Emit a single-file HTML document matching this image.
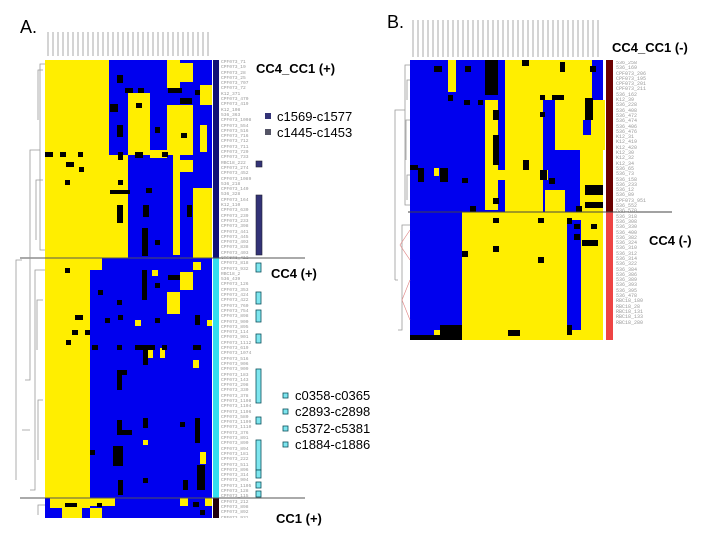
<!DOCTYPE html>
<html><head><meta charset="utf-8"><style>
body{margin:0;background:#fff;width:720px;height:540px;overflow:hidden;font-family:"Liberation Sans",sans-serif;position:relative}
.lab{position:absolute;font-family:"Liberation Mono",monospace;font-size:4.6px;line-height:5.3px;color:#999;overflow:hidden;word-break:normal;white-space:normal}
</style></head><body>
<svg width="720" height="540" viewBox="0 0 720 540" xmlns="http://www.w3.org/2000/svg" font-family="Liberation Sans, sans-serif" style="position:absolute;left:0;top:0">
<text x="20" y="33" font-size="18">A.</text>
<text x="387" y="28" font-size="18">B.</text>
<g stroke="#b8b8b8" stroke-width="1.2">
<path d="M48 56V32M53 56V32M58 56V32M63 56V32M68 56V32M73 56V32M78 56V32M83 56V32M88 56V32M93 56V32M98 56V32M103 56V32M108 56V32M113 56V32M118 56V32M123 56V32M128 56V32M133 56V32M138 56V32M143 56V32M148 56V32M153 56V32M158 56V32M163 56V32M168 56V32M173 56V32M178 56V32M183 56V32M188 56V32M193 56V32M198 56V32M203 56V32M208 56V32"/>
<path d="M413 57V20M418 57V20M423 57V20M428 57V20M433 57V20M438 57V20M443 57V20M448 57V20M453 57V20M458 57V20M463 57V20M468 57V20M473 57V20M478 57V20M483 57V20M488 57V20M493 57V20M498 57V20M503 57V20M508 57V20M513 57V20M518 57V20M523 57V20M528 57V20M533 57V20M538 57V20M543 57V20M548 57V20M553 57V20M558 57V20M563 57V20M568 57V20M573 57V20M578 57V20M583 57V20M588 57V20M593 57V20M598 57V20"/>
</g>
<rect x="45" y="60" width="167" height="198" fill="#ffee00"/>
<rect x="109" y="60" width="103" height="95" fill="#0000ee"/>
<rect x="128" y="155" width="84" height="103" fill="#0000ee"/>
<g fill="#ffee00">
<rect x="167" y="60" width="13" height="28"/><rect x="180" y="63" width="13" height="19"/>
<rect x="128" y="93" width="22" height="62"/><rect x="167" y="105" width="26" height="50"/>
<rect x="200" y="85" width="12" height="20"/><rect x="200" y="125" width="7" height="27"/>
<rect x="173" y="155" width="7" height="100"/><rect x="193" y="188" width="19" height="70"/>
<rect x="150" y="150" width="17" height="8"/><rect x="180" y="160" width="13" height="12"/>
</g>
<g fill="#000">
<rect x="117" y="75" width="6" height="8"/><rect x="125" y="88" width="8" height="5"/><rect x="138" y="88" width="6" height="5"/><rect x="168" y="88" width="14" height="5"/><rect x="195" y="90" width="5" height="5"/>
<rect x="110" y="104" width="8" height="8"/><rect x="136" y="103" width="6" height="5"/><rect x="180" y="98" width="12" height="6"/>
<rect x="117" y="125" width="6" height="12"/><rect x="155" y="127" width="5" height="6"/><rect x="181" y="133" width="6" height="5"/>
<rect x="45" y="152" width="8" height="5"/><rect x="60" y="152" width="6" height="5"/><rect x="78" y="152" width="5" height="5"/><rect x="135" y="152" width="8" height="6"/><rect x="162" y="152" width="6" height="5"/>
<rect x="66" y="162" width="8" height="5"/><rect x="79" y="167" width="5" height="5"/><rect x="118" y="152" width="5" height="8"/>
<rect x="65" y="180" width="5" height="5"/><rect x="118" y="180" width="5" height="5"/><rect x="110" y="190" width="20" height="4"/><rect x="146" y="188" width="6" height="5"/>
<rect x="117" y="205" width="6" height="18"/><rect x="143" y="205" width="6" height="12"/><rect x="187" y="205" width="5" height="12"/>
<rect x="142" y="228" width="6" height="28"/><rect x="155" y="240" width="5" height="5"/>
</g>
<rect x="45" y="258" width="167" height="240" fill="#0000ee"/>
<rect x="45" y="258" width="45" height="240" fill="#ffee00"/>
<g fill="#ffee00">
<rect x="90" y="258" width="12" height="12"/><rect x="152" y="270" width="6" height="6"/><rect x="180" y="272" width="13" height="18"/>
<rect x="167" y="292" width="13" height="22"/><rect x="193" y="262" width="8" height="8"/><rect x="207" y="320" width="5" height="6"/>
<rect x="135" y="320" width="6" height="6"/><rect x="148" y="348" width="5" height="10"/><rect x="160" y="348" width="5" height="10"/><rect x="193" y="360" width="6" height="8"/>
<rect x="143" y="440" width="5" height="5"/><rect x="200" y="452" width="6" height="12"/><rect x="200" y="476" width="5" height="6"/>
</g>
<g fill="#000">
<rect x="65" y="268" width="5" height="5"/><rect x="142" y="270" width="5" height="30"/><rect x="155" y="283" width="5" height="5"/><rect x="168" y="275" width="12" height="5"/>
<rect x="98" y="290" width="5" height="5"/><rect x="117" y="300" width="5" height="5"/><rect x="75" y="315" width="8" height="5"/><rect x="105" y="318" width="5" height="5"/><rect x="118" y="315" width="5" height="5"/><rect x="155" y="318" width="5" height="5"/><rect x="195" y="315" width="5" height="10"/>
<rect x="72" y="330" width="6" height="5"/><rect x="85" y="330" width="5" height="5"/><rect x="66" y="340" width="5" height="5"/>
<rect x="92" y="345" width="6" height="5"/><rect x="117" y="345" width="5" height="5"/><rect x="135" y="345" width="20" height="5"/><rect x="143" y="350" width="5" height="15"/><rect x="162" y="345" width="5" height="5"/><rect x="193" y="345" width="8" height="5"/>
<rect x="117" y="370" width="5" height="20"/><rect x="122" y="370" width="5" height="5"/>
<rect x="117" y="420" width="5" height="15"/><rect x="143" y="418" width="5" height="10"/><rect x="195" y="418" width="5" height="25"/><rect x="180" y="422" width="5" height="5"/><rect x="122" y="430" width="10" height="5"/>
<rect x="90" y="450" width="5" height="5"/><rect x="113" y="446" width="10" height="20"/><rect x="197" y="465" width="8" height="25"/>
<rect x="118" y="480" width="5" height="15"/><rect x="143" y="478" width="5" height="5"/><rect x="183" y="480" width="5" height="10"/>
</g>
<rect x="45" y="498" width="167" height="20" fill="#0000ee"/>
<g fill="#ffee00"><rect x="50" y="498" width="40" height="10"/><rect x="83" y="498" width="32" height="8"/><rect x="62" y="508" width="20" height="10"/><rect x="90" y="508" width="12" height="10"/><rect x="180" y="498" width="8" height="8"/><rect x="205" y="498" width="7" height="8"/></g>
<g fill="#000"><rect x="65" y="503" width="12" height="4"/><rect x="97" y="503" width="5" height="4"/><rect x="193" y="502" width="6" height="5"/><rect x="200" y="510" width="5" height="5"/></g>
<rect x="213" y="60" width="6" height="198" fill="#111177"/>
<rect x="213" y="258" width="6" height="240" fill="#33ddee"/>
<rect x="213" y="498" width="6" height="20" fill="#220011"/>
<line x1="20" y1="258" x2="305" y2="258" stroke="#555" stroke-width="1"/>
<line x1="20" y1="498" x2="305" y2="498" stroke="#555" stroke-width="1"/>
<g stroke="#999" fill="none" stroke-width="0.8">
<path d="M45 64H40V250H45M40 150H30V380H25M22 260H16V480M45 270H35V490H30M30 430H22"/>
<path d="M43 70H38V120M43 180H36V240M43 300H37V350M43 400H38V460M45 505H38V515"/>
</g>
<g fill="#333377" stroke="#223" stroke-width="0.6">
<rect x="256" y="161" width="6" height="6"/>
<rect x="256" y="195" width="6" height="60"/>
</g>
<g fill="#7ee6ef" stroke="#0a4f5a" stroke-width="0.8">
<rect x="256" y="263" width="5" height="9"/><rect x="256" y="292" width="5" height="12"/><rect x="256" y="310" width="5" height="12"/><rect x="256" y="334" width="5" height="9"/>
<rect x="256" y="369" width="5" height="34"/><rect x="256" y="417" width="5" height="7"/><rect x="256" y="440" width="5" height="30"/><rect x="256" y="470" width="5" height="8"/><rect x="256" y="482" width="5" height="6"/><rect x="256" y="491" width="5" height="6"/>
</g>
<text x="256" y="73" font-size="13" font-weight="bold">CC4_CC1 (+)</text>
<rect x="265" y="113" width="6" height="6" fill="#333377"/>
<text x="277" y="121" font-size="13">c1569-c1577</text>
<rect x="265" y="129" width="6" height="6" fill="#556"/>
<text x="277" y="137" font-size="13">c1445-c1453</text>
<text x="271" y="278" font-size="13" font-weight="bold">CC4 (+)</text>
<g fill="#7ee6ef" stroke="#0a4f5a" stroke-width="0.8">
<rect x="283" y="393" width="5" height="5"/><rect x="283" y="409" width="5" height="5"/><rect x="283" y="426" width="5" height="5"/><rect x="283" y="442" width="5" height="5"/>
</g>
<text x="295" y="400" font-size="13">c0358-c0365</text>
<text x="295" y="416" font-size="13">c2893-c2898</text>
<text x="295" y="433" font-size="13">c5372-c5381</text>
<text x="295" y="449" font-size="13">c1884-c1886</text>
<text x="276" y="523" font-size="13" font-weight="bold">CC1 (+)</text>

<rect x="410" y="60" width="193" height="152" fill="#0000ee"/>
<g fill="#ffee00">
<rect x="448" y="60" width="8" height="32"/><rect x="505" y="60" width="38" height="152"/><rect x="543" y="60" width="22" height="40"/><rect x="565" y="60" width="27" height="80"/>
<rect x="485" y="100" width="13" height="110"/><rect x="555" y="100" width="50" height="50"/><rect x="580" y="150" width="23" height="62"/>
<rect x="498" y="170" width="50" height="10"/><rect x="545" y="190" width="20" height="22"/><rect x="434" y="168" width="5" height="8"/>
</g>
<rect x="583" y="120" width="8" height="15" fill="#0000ee"/>
<g fill="#000">
<rect x="522" y="60" width="7" height="6"/><rect x="434" y="66" width="8" height="6"/><rect x="465" y="66" width="6" height="6"/><rect x="485" y="60" width="13" height="35"/><rect x="560" y="62" width="5" height="10"/><rect x="590" y="66" width="6" height="6"/>
<rect x="448" y="95" width="5" height="6"/><rect x="464" y="100" width="6" height="5"/><rect x="478" y="100" width="5" height="5"/><rect x="540" y="95" width="5" height="5"/><rect x="552" y="95" width="12" height="5"/><rect x="585" y="98" width="8" height="22"/>
<rect x="493" y="110" width="6" height="10"/><rect x="540" y="112" width="5" height="5"/>
<rect x="493" y="135" width="6" height="30"/><rect x="523" y="160" width="6" height="10"/>
<rect x="410" y="165" width="8" height="5"/><rect x="418" y="168" width="6" height="14"/><rect x="440" y="168" width="8" height="14"/><rect x="462" y="178" width="6" height="5"/>
<rect x="540" y="170" width="7" height="10"/><rect x="549" y="178" width="6" height="6"/><rect x="585" y="185" width="18" height="10"/><rect x="493" y="198" width="6" height="6"/><rect x="585" y="202" width="18" height="6"/><rect x="470" y="206" width="6" height="6"/><rect x="576" y="206" width="6" height="6"/>
</g>
<rect x="410" y="212" width="193" height="128" fill="#ffee00"/>
<rect x="410" y="212" width="52" height="128" fill="#0000ee"/>
<rect x="567" y="220" width="14" height="110" fill="#0000ee"/>
<g fill="#000">
<rect x="493" y="218" width="6" height="5"/><rect x="538" y="218" width="6" height="5"/><rect x="567" y="218" width="5" height="6"/><rect x="574" y="224" width="6" height="5"/><rect x="591" y="224" width="6" height="5"/>
<rect x="574" y="234" width="6" height="6"/><rect x="582" y="240" width="16" height="6"/><rect x="493" y="246" width="6" height="6"/><rect x="462" y="251" width="6" height="6"/><rect x="538" y="257" width="6" height="6"/>
<rect x="440" y="325" width="22" height="15"/><rect x="410" y="335" width="52" height="5"/><rect x="508" y="330" width="12" height="6"/><rect x="567" y="325" width="5" height="10"/>
</g>
<rect x="434" y="330" width="6" height="5" fill="#ffee00"/>
<rect x="606" y="60" width="7" height="152" fill="#6b0000"/>
<rect x="606" y="212" width="7" height="128" fill="#ee4444"/>
<line x1="408" y1="212" x2="672" y2="212" stroke="#444" stroke-width="1"/>
<g stroke="#999" fill="none" stroke-width="0.8">
<path d="M410 65H405V205H410M405 110H395V280M410 225H402V330H398M398 280H395"/>
<path d="M410 80H407V100M410 120H406V160M410 175H407V200"/>
</g>
<g stroke="#e08080" fill="none" stroke-width="0.6"><path d="M410 230L400 245L410 260M410 280L402 300L410 320"/></g>
<text x="612" y="52" font-size="13" font-weight="bold">CC4_CC1 (-)</text>
<text x="649" y="245" font-size="13" font-weight="bold">CC4 (-)</text>
</svg>
<div class="lab" style="left:221px;top:60px;width:40px;height:458px">CPF073_71 CPF073_19 CPF073_28 CPF073_25 CPF073_707 CPF073_72 K12_371 CPF073_470 CPF073_419 K12_108 536_363 CPF073_1008 CPF073_554 CPF073_516 CPF073_716 CPF073_712 CPF073_711 CPF073_720 CPF073_733 RBC18_222 CPF073_274 CPF073_452 CPF073_1089 536_218 CPF073_140 536_328 CPF073_164 K12_110 CPF073_630 CPF073_239 CPF073_233 CPF073_398 CPF073_441 CPF073_445 CPF073_403 CPF073_838 CPF073_403 CPF073_412 CPF073_818 CPF073_932 RBC18_2 536_439 CPF073_126 CPF073_353 CPF073_424 CPF073_422 CPF073_760 CPF073_754 CPF073_898 CPF073_900 CPF073_895 CPF073_114 CPF073_901 CPF073_1112 CPF073_619 CPF073_1074 CPF073_516 CPF073_906 CPF073_909 CPF073_183 CPF073_143 CPF073_298 CPF073_330 CPF073_378 CPF073_1108 CPF073_1104 CPF073_1106 CPF073_580 CPF073_1109 CPF073_1110 CPF073_376 CPF073_891 CPF073_890 CPF073_894 CPF073_181 CPF073_222 CPF073_511 CPF073_896 CPF073_314 CPF073_904 CPF073_1105 CPF073_128 CPF073_115 CPF073_212 CPF073_898 CPF073_892 CPF073_931 CPF073_335 CPF073_582 CPF073_899 CPF073_916 CPF073_634 K12_110 RBC18_13 RBC18_8</div>
<div class="lab" style="left:616px;top:61px;width:38px;height:279px;font-size:5px">536_258 536_169 CPF073_206 CPF073_195 CPF073_201 CPF073_211 536_162 K12_39 536_228 536_408 536_472 536_474 536_406 536_476 K12_31 K12_419 K12_420 K12_30 K12_32 K12_34 536_65 536_73 536_158 536_233 536_12 536_89 CPF073_951 536_552 536_570 536_318 536_308 536_330 536_400 536_382 536_324 536_310 536_312 536_314 536_322 536_384 536_386 536_389 536_393 536_395 536_478 RBC18_180 RBC18_28 RBC18_131 RBC18_133 RBC18_280</div>
</body></html>
